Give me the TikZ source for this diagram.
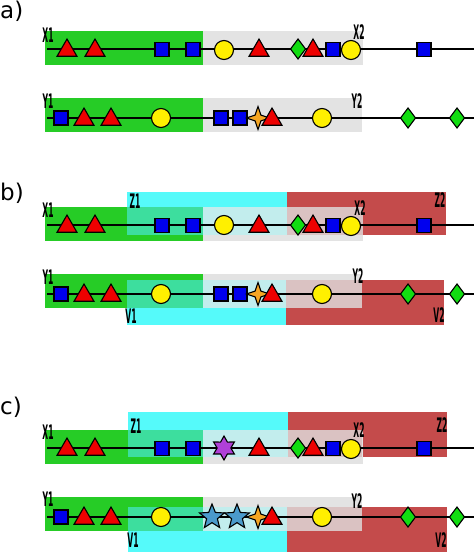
\documentclass[tikz,border=0pt]{standalone}
\usepackage{fontspec}
\usepackage{graphicx}
\setmainfont{DejaVu Sans}
\usetikzlibrary{shapes.geometric}
\definecolor{grnband}{HTML}{26CC26}
\definecolor{grayband}{HTML}{E3E3E3}
\definecolor{cyanband}{HTML}{55FAFA}
\definecolor{redband}{HTML}{C44B4B}
\definecolor{tealmix}{HTML}{3DDE9E}
\definecolor{lcyanmix}{HTML}{C2EDED}
\definecolor{pinkmix}{HTML}{DAC2C2}
\definecolor{trired}{HTML}{EE0000}
\definecolor{sqblue}{HTML}{0000EE}
\definecolor{cyell}{HTML}{FFF000}
\definecolor{dgreen}{HTML}{11DD11}
\definecolor{sorange}{HTML}{F5A623}
\definecolor{spurple}{HTML}{B040D8}
\definecolor{sblue}{HTML}{4A9ACB}
\newcommand{\tagtxt}[1]{\scalebox{0.38}[1]{\bfseries #1}}
\begin{document}
\begin{tikzpicture}[x=1pt,y=-1pt,
  shp/.style={draw=black,line width=1.1pt,inner sep=0pt,outer sep=0pt},
  tri/.style={shp,regular polygon,regular polygon sides=3,minimum size=23pt,fill=trired,yshift=-1.5pt},
  sq/.style={shp,rectangle,minimum size=14pt,fill=sqblue},
  circ/.style={shp,circle,minimum size=19pt,fill=cyell},
  dia/.style={shp,diamond,minimum width=15pt,minimum height=20pt,fill=dgreen},
  stfour/.style={shp,star,star points=4,star point ratio=2.8,minimum size=23pt,fill=sorange},
  stsix/.style={shp,star,star points=6,star point ratio=1.75,minimum size=24pt,fill=spurple},
  stfive/.style={shp,star,star points=5,star point ratio=2.3,minimum size=26pt,fill=sblue},
  lab/.style={inner sep=0pt,font=\fontsize{20}{20}\selectfont},
  plab/.style={inner sep=0pt,anchor=base west,font=\fontsize{23}{23}\selectfont},
  backbone/.style={line width=1.7pt,draw=black}
]
\useasboundingbox (0,0) rectangle (474,552);
% coloured bands (panels b and c)
\fill[cyanband] (127,191.5) rectangle (287,235);
\fill[redband] (287,191.5) rectangle (446,235);
\fill[cyanband] (127,280) rectangle (286,324.5);
\fill[redband] (286,280) rectangle (444,324.5);
\fill[cyanband] (128,412) rectangle (288,457);
\fill[redband] (288,412) rectangle (447,457);
\fill[cyanband] (128,507) rectangle (287,552);
\fill[redband] (287,507) rectangle (447,552);
% green and grey strips
\foreach \p/\dy in {a/0,b/176,c/399}{
  \fill[grnband] (45,{31+\dy}) rectangle (203,{65+\dy});
  \fill[grayband] (203,{31+\dy}) rectangle (363,{65+\dy});
  \fill[grnband] (45,{98+\dy}) rectangle (203,{132+\dy});
  \fill[grayband] (203,{98+\dy}) rectangle (362,{132+\dy});
}
% overlaps
\fill[tealmix] (127,207) rectangle (203,235);
\fill[lcyanmix] (203,207) rectangle (287,235);
\fill[pinkmix] (287,207) rectangle (363,235);
\fill[tealmix] (127,280) rectangle (203,308);
\fill[lcyanmix] (203,280) rectangle (286,308);
\fill[pinkmix] (286,280) rectangle (362,308);
\fill[tealmix] (128,430) rectangle (203,457);
\fill[lcyanmix] (203,430) rectangle (288,457);
\fill[pinkmix] (288,430) rectangle (362,457);
\fill[tealmix] (128,507) rectangle (203,531);
\fill[lcyanmix] (203,507) rectangle (287,531);
\fill[pinkmix] (287,507) rectangle (362,531);
% backbones
\foreach \p/\dy in {a/0,b/176,c/399}{
  \coordinate (\p-s1) at (47,{49+\dy});
  \coordinate (\p-e1) at (474,{49+\dy});
  \coordinate (\p-s2) at (47,{118+\dy});
  \coordinate (\p-e2) at (474,{118+\dy});
  \draw[backbone] (\p-s1) -- (\p-e1);
  \draw[backbone] (\p-s2) -- (\p-e2);
}
% row 1 shapes
\foreach \p/\dy in {a/0,b/176,c/399}{
  \node[tri] (\p-r1a) at (67,{49+\dy}) {};
  \node[tri] (\p-r1b) at (95,{49+\dy}) {};
  \node[sq] (\p-r1c) at (162,{49.5+\dy}) {};
  \node[sq] (\p-r1d) at (193,{49.5+\dy}) {};
}
\node[circ] (a-r1e) at (224,50) {};
\node[circ] (b-r1e) at (224,225) {};
\node[stsix] (c-r1e) at (224,448) {};
\foreach \p/\dy in {a/0,b/176,c/399}{
  \node[tri] (\p-r1f) at (259,{49+\dy}) {};
  \node[dia] (\p-r1g) at (298,{49+\dy}) {};
  \node[tri] (\p-r1h) at (313,{49+\dy}) {};
  \node[sq] (\p-r1i) at (333,{49.5+\dy}) {};
  \node[circ] (\p-r1j) at (351,{50+\dy}) {};
  \node[sq] (\p-r1k) at (424,{49.5+\dy}) {};
}
% row 2 shapes
\foreach \p/\dy in {a/0,b/176,c/399}{
  \node[sq] (\p-r2a) at (61,{118+\dy}) {};
  \node[tri] (\p-r2b) at (84,{118+\dy}) {};
  \node[tri] (\p-r2c) at (111,{118+\dy}) {};
  \node[circ] (\p-r2d) at (161,{118+\dy}) {};
}
\node[sq] (a-r2e) at (221,118) {};
\node[sq] (a-r2f) at (240,118) {};
\node[sq] (b-r2e) at (221,294) {};
\node[sq] (b-r2f) at (240,294) {};
\node[stfive] (c-r2e) at (212,517) {};
\node[stfive] (c-r2f) at (237,517) {};
\foreach \p/\dy in {a/0,b/176,c/399}{
  \node[stfour] (\p-r2g) at (258,{118+\dy}) {};
  \node[tri] (\p-r2h) at (272,{118+\dy}) {};
  \node[circ] (\p-r2i) at (322,{118+\dy}) {};
  \node[dia] (\p-r2j) at (408,{118+\dy}) {};
  \node[dia] (\p-r2k) at (457,{118+\dy}) {};
}
% labels
\node[plab] (pa) at (0,18) {a)};
\node[plab] (pb) at (0,200) {b)};
\node[plab] (pc) at (0,414) {c)};
\node[lab] (aX1) at (48,35) {\tagtxt{X1}};
\node[lab] (aX2) at (359,32) {\tagtxt{X2}};
\node[lab] (aY1) at (48,101) {\tagtxt{Y1}};
\node[lab] (aY2) at (357,101) {\tagtxt{Y2}};
\node[lab] (bX1) at (48,210) {\tagtxt{X1}};
\node[lab] (bZ1) at (135,201) {\tagtxt{Z1}};
\node[lab] (bX2) at (360,208) {\tagtxt{X2}};
\node[lab] (bZ2) at (440,200) {\tagtxt{Z2}};
\node[lab] (bY1) at (48,277) {\tagtxt{Y1}};
\node[lab] (bY2) at (358,276) {\tagtxt{Y2}};
\node[lab] (bV1) at (131,316) {\tagtxt{V1}};
\node[lab] (bV2) at (439,315) {\tagtxt{V2}};
\node[lab] (cX1) at (48,432) {\tagtxt{X1}};
\node[lab] (cZ1) at (136,426) {\tagtxt{Z1}};
\node[lab] (cX2) at (359,430) {\tagtxt{X2}};
\node[lab] (cZ2) at (442,425) {\tagtxt{Z2}};
\node[lab] (cY1) at (48,499) {\tagtxt{Y1}};
\node[lab] (cY2) at (357,501) {\tagtxt{Y2}};
\node[lab] (cV1) at (133,540) {\tagtxt{V1}};
\node[lab] (cV2) at (441,540) {\tagtxt{V2}};
\end{tikzpicture}
\end{document}
